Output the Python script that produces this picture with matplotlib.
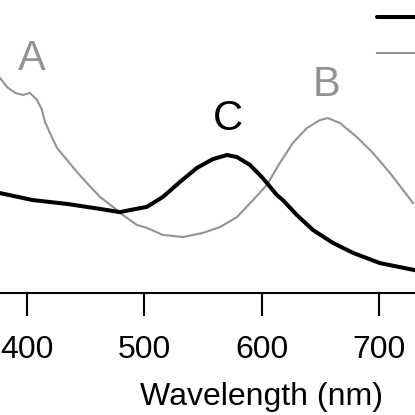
import matplotlib
matplotlib.use("Agg")
import matplotlib.pyplot as plt
from matplotlib.lines import Line2D

plt.rcParams['font.family'] = ['Liberation Sans', 'DejaVu Sans']

# spectrum C (black, thick)
wl_c = [377.0, 405.1, 434.1, 462.2, 479.3, 487.8, 502.3, 515.9, 530.4, 544.9,
        558.5, 570.5, 579.0, 590.1, 601.1, 613.1, 618.2, 630.1, 643.8, 660.8,
        677.9, 700.9, 730.7]
abs_c = [0.341, 0.317, 0.304, 0.287, 0.276, 0.283, 0.294, 0.328, 0.379, 0.427,
         0.457, 0.471, 0.464, 0.437, 0.392, 0.334, 0.317, 0.266, 0.215, 0.171,
         0.137, 0.102, 0.078]

# spectrum A/B (gray, thin)
wl_ab = [377.0, 383.0, 389.8, 396.6, 402.6, 408.5, 412.8, 415.3, 419.6, 425.6,
         434.1, 442.6, 451.2, 462.2, 473.3, 481.8, 493.8, 502.3, 515.9, 533.0,
         550.0, 564.5, 579.0, 592.7, 604.6, 615.6, 626.7, 638.6, 649.7, 656.5,
         666.8, 681.3, 694.9, 709.4, 720.5, 729.1]
abs_ab = [0.734, 0.703, 0.683, 0.676, 0.683, 0.659, 0.625, 0.584, 0.546, 0.495,
          0.454, 0.413, 0.375, 0.328, 0.294, 0.266, 0.232, 0.222, 0.198, 0.191,
          0.205, 0.225, 0.259, 0.317, 0.369, 0.444, 0.512, 0.563, 0.590, 0.597,
          0.580, 0.532, 0.478, 0.410, 0.352, 0.307]

labels = ['A', 'B', 'C']
label_x = [404.3, 655.7, 571.3]
label_y = [0.800, 0.710, 0.594]
label_col = ['#939393', '#939393', 'black']

xticks = [400, 500, 600, 700]

fig = plt.figure(figsize=(4.15, 4.15), dpi=100)
ax = fig.add_axes([0, 0.294, 1, 0.706])

ax.plot(wl_ab, abs_ab, color='#939393', lw=1.5)
ax.plot(wl_c, abs_c, color='black', lw=2.9)

for t, x, y, c in zip(labels, label_x, label_y, label_col):
    ax.text(x, y, t, color=c, fontsize=30, ha='center', va='center')

ax.set_xlim(377, 730.8)
ax.set_ylim(0, 1)
for s in ['left', 'right', 'top']:
    ax.spines[s].set_visible(False)
ax.spines['bottom'].set_linewidth(1.5)
ax.set_yticks([])
ax.set_xticks(xticks)
ax.tick_params(axis='x', direction='out', length=16.5, width=1.5,
               labelsize=23, pad=14)
ax.set_xlabel('Wavelength (nm)', fontsize=23)
ax.xaxis.set_label_coords(600, -0.355, transform=ax.get_xaxis_transform())
ax.xaxis.label.set_va('center')

# legend handles (labels cut off at the right edge)
fig.add_artist(Line2D([0.908, 1.05], [0.959, 0.959], color='black', lw=2.9,
                      solid_capstyle='round'))
fig.add_artist(Line2D([0.908, 1.05], [0.872, 0.872], color='#939393', lw=1.5))

fig.savefig('out.png', dpi=100)
